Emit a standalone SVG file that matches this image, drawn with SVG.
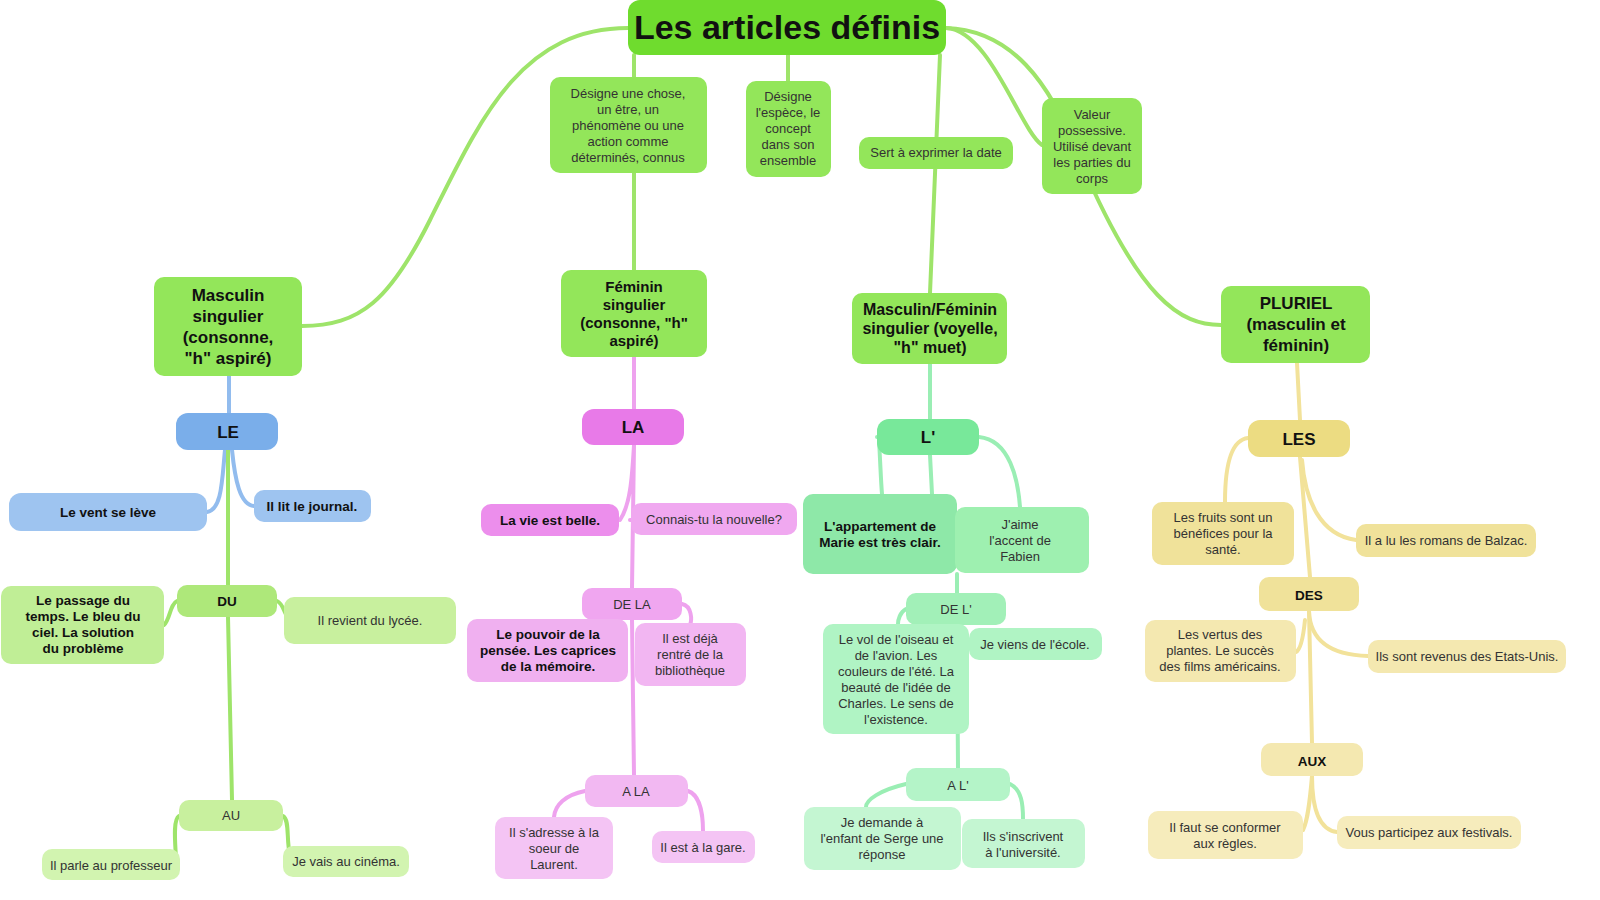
<svg xmlns="http://www.w3.org/2000/svg" width="1600" height="900" viewBox="0 0 1600 900">
<style>
text{font-family:"Liberation Sans",Arial,sans-serif;text-anchor:middle;fill:#111}
.b{font-weight:bold}
.n{font-size:13px;fill:#333}
.s{font-size:13.5px;font-weight:bold}
.h{font-size:17px;font-weight:bold}
.a{font-size:17px;font-weight:bold}
path{fill:none;stroke-width:4;stroke-linecap:round}
.g{stroke:#9ee46a}.bl{stroke:#92bcee}.pk{stroke:#eea2ee}.mg{stroke:#9aeeb4}.y{stroke:#f2e29a}
rect{stroke:none}
</style>
<g id="connectors">
<path class="g" d="M628,28 C520,28 480,120 430,220 C390,300 360,326 302,326"/>
<path class="g" d="M634,55 L634,270"/>
<path class="g" d="M788,55 L788,81"/>
<path class="g" d="M940,55 L930,293"/>
<path class="g" d="M946,28 C990,30 1020,130 1042,145"/>
<path class="g" d="M946,28 C1010,30 1050,80 1080,160 C1140,300 1180,325 1221,325"/>
<path class="bl" d="M229,376 L229,413"/>
<path class="bl" d="M225,450 C222,480 222,510 207,512"/>
<path class="bl" d="M232,450 C235,480 240,505 254,506"/>
<path class="g" d="M228,450 L228,585 M228,617 L232,800"/>
<path class="g" d="M177,601 C170,604 170,620 164,625"/>
<path class="g" d="M277,601 C284,604 284,615 290,620"/>
<path class="g" d="M179,816 C172,820 176,850 176,860"/>
<path class="g" d="M283,816 C290,820 286,840 290,855"/>
<path class="pk" d="M634,357 L634,409"/>
<path class="pk" d="M634,445 C632,480 630,505 620,520 M634,445 L632,588 M632,620 L634,775"/>
<path class="pk" d="M630,520 L631,520"/>
<path class="pk" d="M682,604 C692,606 692,620 690,625"/>
<path class="pk" d="M585,791 C565,795 555,805 554,817"/>
<path class="pk" d="M688,791 C700,795 703,815 703,831"/>
<path class="mg" d="M930,364 L930,419 M930,455 L932,494"/>
<path class="mg" d="M877,437 C880,437 880,470 882,494"/>
<path class="mg" d="M979,437 C1010,440 1018,480 1020,507"/>
<path class="mg" d="M957,574 L957,593 M957,625 L958,768"/>
<path class="mg" d="M906,609 C900,612 898,620 898,624"/>
<path class="mg" d="M906,784 C880,790 866,800 866,807"/>
<path class="mg" d="M1010,784 C1022,790 1023,805 1023,819"/>
<path class="y" d="M1297,363 L1300,420"/>
<path class="y" d="M1248,438 C1230,440 1225,470 1225,502"/>
<path class="y" d="M1300,457 L1310,577 M1309,611 L1312,743"/>
<path class="y" d="M1302,460 C1305,500 1320,535 1356,540"/>
<path class="y" d="M1309,611 C1310,640 1330,655 1368,656"/>
<path class="y" d="M1305,620 C1303,640 1300,650 1296,652"/>
<path class="y" d="M1312,776 C1312,810 1320,830 1337,832"/>
<path class="y" d="M1312,776 C1310,800 1308,820 1303,830"/>
</g>
<g id="title"><rect x="628" y="0" width="318" height="55" rx="12" fill="#6fdc2e"/><text x="787" y="39" class="b" font-size="34">Les articles définis</text></g>
<g id="d1"><rect x="550" y="77" width="157" height="96" rx="10" fill="#93e65a"/><text class="n" x="628" y="98">Désigne une chose,<tspan x="628" dy="16">un être, un</tspan><tspan x="628" dy="16">phénomène ou une</tspan><tspan x="628" dy="16">action comme</tspan><tspan x="628" dy="16">déterminés, connus</tspan></text></g>
<g id="d2"><rect x="746" y="81" width="85" height="96" rx="10" fill="#93e65a"/><text class="n" x="788" y="101">Désigne<tspan x="788" dy="16">l'espèce, le</tspan><tspan x="788" dy="16">concept</tspan><tspan x="788" dy="16">dans son</tspan><tspan x="788" dy="16">ensemble</tspan></text></g>
<g id="d3"><rect x="859" y="137" width="154" height="32" rx="10" fill="#93e65a"/><text class="n" x="936" y="157">Sert à exprimer la date</text></g>
<g id="d4"><rect x="1042" y="98" width="100" height="96" rx="10" fill="#93e65a"/><text class="n" x="1092" y="119">Valeur<tspan x="1092" dy="16">possessive.</tspan><tspan x="1092" dy="16">Utilisé devant</tspan><tspan x="1092" dy="16">les parties du</tspan><tspan x="1092" dy="16">corps</tspan></text></g>
<g id="ms"><rect x="154" y="277" width="148" height="99" rx="10" fill="#93e65a"/><text class="h" x="228" y="301">Masculin<tspan x="228" dy="21">singulier</tspan><tspan x="228" dy="21">(consonne,</tspan><tspan x="228" dy="21">"h" aspiré)</tspan></text></g>
<g id="fs"><rect x="561" y="270" width="146" height="87" rx="10" fill="#93e65a"/><text class="b" font-size="15" x="634" y="292">Féminin<tspan x="634" dy="18">singulier</tspan><tspan x="634" dy="18">(consonne, "h"</tspan><tspan x="634" dy="18">aspiré)</tspan></text></g>
<g id="mf"><rect x="852" y="293" width="155" height="71" rx="10" fill="#93e65a"/><text class="b" font-size="16" x="930" y="315">Masculin/Féminin<tspan x="930" dy="19">singulier (voyelle,</tspan><tspan x="930" dy="19">"h" muet)</tspan></text></g>
<g id="pl"><rect x="1221" y="286" width="149" height="77" rx="10" fill="#93e65a"/><text class="h" x="1296" y="309">PLURIEL<tspan x="1296" dy="21">(masculin et</tspan><tspan x="1296" dy="21">féminin)</tspan></text></g>
<g id="le"><rect x="176" y="413" width="102" height="37" rx="12" fill="#7aaeea"/><text class="a" x="228" y="438">LE</text></g>
<g id="la"><rect x="582" y="409" width="102" height="36" rx="12" fill="#e87ae8"/><text class="a" x="633" y="433">LA</text></g>
<g id="lap"><rect x="877" y="419" width="102" height="36" rx="12" fill="#78e89a"/><text class="a" x="928" y="443">L'</text></g>
<g id="les"><rect x="1248" y="420" width="102" height="37" rx="12" fill="#ecdc82"/><text class="a" x="1299" y="445">LES</text></g>
<g id="e1"><rect x="9" y="493" width="198" height="38" rx="12" fill="#9ec4f0"/><text class="s" x="108" y="517">Le vent se lève</text></g>
<g id="e2"><rect x="254" y="490" width="117" height="32" rx="10" fill="#9ec4f0"/><text class="s" x="312" y="511">Il lit le journal.</text></g>
<g id="du"><rect x="177" y="585" width="100" height="32" rx="10" fill="#aee87a"/><text class="s" x="227" y="606">DU</text></g>
<g id="e3"><rect x="1" y="586" width="163" height="78" rx="10" fill="#c0ee96"/><text class="s" x="83" y="605">Le passage du<tspan x="83" dy="16">temps. Le bleu du</tspan><tspan x="83" dy="16">ciel. La solution</tspan><tspan x="83" dy="16">du problème</tspan></text></g>
<g id="e4"><rect x="284" y="597" width="172" height="47" rx="10" fill="#c8f09e"/><text class="n" x="370" y="625">Il revient du lycée.</text></g>
<g id="au"><rect x="179" y="800" width="104" height="31" rx="10" fill="#c8f09e"/><text class="n" x="231" y="820">AU</text></g>
<g id="e5"><rect x="42" y="849" width="138" height="31" rx="10" fill="#d2f4b0"/><text class="n" x="111" y="870">Il parle au professeur</text></g>
<g id="e6"><rect x="283" y="846" width="126" height="31" rx="10" fill="#d2f4b0"/><text class="n" x="346" y="866">Je vais au cinéma.</text></g>
<g id="e7"><rect x="481" y="504" width="138" height="32" rx="10" fill="#ec8eec"/><text class="s" x="550" y="525">La vie est belle.</text></g>
<g id="e8"><rect x="631" y="503" width="166" height="32" rx="10" fill="#f0a8f0"/><text class="n" x="714" y="524">Connais-tu la nouvelle?</text></g>
<g id="dela"><rect x="582" y="588" width="100" height="32" rx="10" fill="#f0a6f0"/><text class="n" x="632" y="609">DE LA</text></g>
<g id="e9"><rect x="467" y="619" width="161" height="63" rx="10" fill="#f0b0f0"/><text class="s" x="548" y="639">Le pouvoir de la<tspan x="548" dy="16">pensée. Les caprices</tspan><tspan x="548" dy="16">de la mémoire.</tspan></text></g>
<g id="e10"><rect x="635" y="623" width="111" height="63" rx="10" fill="#f2b6f2"/><text class="n" x="690" y="643">Il est déjà<tspan x="690" dy="16">rentré de la</tspan><tspan x="690" dy="16">bibliothèque</tspan></text></g>
<g id="ala"><rect x="585" y="775" width="103" height="32" rx="10" fill="#f2b8f2"/><text class="n" x="636" y="796">A LA</text></g>
<g id="e11"><rect x="495" y="817" width="118" height="62" rx="10" fill="#f4c4f4"/><text class="n" x="554" y="837">Il s'adresse à la<tspan x="554" dy="16">soeur de</tspan><tspan x="554" dy="16">Laurent.</tspan></text></g>
<g id="e12"><rect x="652" y="831" width="103" height="32" rx="10" fill="#f4c4f4"/><text class="n" x="703" y="852">Il est à la gare.</text></g>
<g id="e13"><rect x="803" y="494" width="154" height="80" rx="10" fill="#8ee8a8"/><text class="s" x="880" y="531">L'appartement de<tspan x="880" dy="16">Marie est très clair.</tspan></text></g>
<g id="e14"><rect x="955" y="507" width="134" height="66" rx="10" fill="#9ef0b0"/><text class="n" x="1020" y="529">J'aime<tspan x="1020" dy="16">l'accent de</tspan><tspan x="1020" dy="16">Fabien</tspan></text></g>
<g id="del"><rect x="906" y="593" width="100" height="32" rx="10" fill="#a2f0b8"/><text class="n" x="956" y="614">DE L'</text></g>
<g id="e15"><rect x="823" y="624" width="146" height="110" rx="10" fill="#b0f4c4"/><text class="n" x="896" y="644">Le vol de l'oiseau et<tspan x="896" dy="16">de l'avion. Les</tspan><tspan x="896" dy="16">couleurs de l'été. La</tspan><tspan x="896" dy="16">beauté de l'idée de</tspan><tspan x="896" dy="16">Charles. Le sens de</tspan><tspan x="896" dy="16">l'existence.</tspan></text></g>
<g id="e16"><rect x="969" y="628" width="133" height="32" rx="10" fill="#b0f4c4"/><text class="n" x="1035" y="649">Je viens de l'école.</text></g>
<g id="al"><rect x="906" y="768" width="104" height="33" rx="10" fill="#b4f4c8"/><text class="n" x="958" y="790">A L'</text></g>
<g id="e17"><rect x="804" y="807" width="157" height="63" rx="10" fill="#c4f6d2"/><text class="n" x="882" y="827">Je demande à<tspan x="882" dy="16">l'enfant de Serge une</tspan><tspan x="882" dy="16">réponse</tspan></text></g>
<g id="e18"><rect x="962" y="819" width="123" height="49" rx="10" fill="#c4f6d2"/><text class="n" x="1023" y="841">Ils s'inscrivent<tspan x="1023" dy="16">à l'université.</tspan></text></g>
<g id="e19"><rect x="1152" y="502" width="142" height="63" rx="10" fill="#f0e29a"/><text class="n" x="1223" y="522">Les fruits sont un<tspan x="1223" dy="16">bénéfices pour la</tspan><tspan x="1223" dy="16">santé.</tspan></text></g>
<g id="e20"><rect x="1356" y="524" width="180" height="33" rx="10" fill="#f0e29a"/><text class="n" x="1446" y="545">Il a lu les romans de Balzac.</text></g>
<g id="des"><rect x="1259" y="577" width="100" height="34" rx="10" fill="#f0e29a"/><text class="s" x="1309" y="600" font-size="16">DES</text></g>
<g id="e21"><rect x="1145" y="620" width="151" height="62" rx="10" fill="#f4e8b0"/><text class="n" x="1220" y="639">Les vertus des<tspan x="1220" dy="16">plantes. Le succès</tspan><tspan x="1220" dy="16">des films américains.</tspan></text></g>
<g id="e22"><rect x="1368" y="640" width="198" height="33" rx="10" fill="#f4e8b0"/><text class="n" x="1467" y="661">Ils sont revenus des Etats-Unis.</text></g>
<g id="aux"><rect x="1261" y="743" width="102" height="33" rx="10" fill="#f4e8b0"/><text class="s" x="1312" y="766" font-size="16">AUX</text></g>
<g id="e23"><rect x="1148" y="811" width="155" height="48" rx="10" fill="#f6ecbc"/><text class="n" x="1225" y="832">Il faut se conformer<tspan x="1225" dy="16">aux règles.</tspan></text></g>
<g id="e24"><rect x="1337" y="816" width="184" height="33" rx="10" fill="#f6ecbc"/><text class="n" x="1429" y="837">Vous participez aux festivals.</text></g>
</svg>
